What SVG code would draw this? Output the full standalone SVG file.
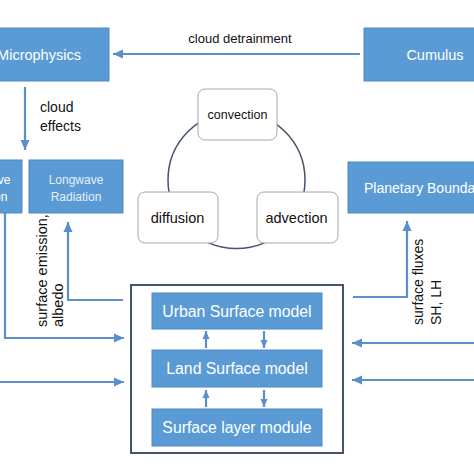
<svg xmlns="http://www.w3.org/2000/svg" width="474" height="474" viewBox="0 0 474 474">
<style>
.blue{fill:#5B9BD5;stroke:#4F88C2;stroke-width:1}
.wt{fill:#FFFFFF;font-family:"Liberation Sans",Arial,sans-serif;text-anchor:middle}
.bt{fill:#111111;font-family:"Liberation Sans",Arial,sans-serif}
.rb{fill:#FFFFFF;stroke:#A6A6A6;stroke-width:1}
.ln{fill:none;stroke:#5B8FCB;stroke-width:2.2}
.sm{fill:none;stroke:#5B8FCB;stroke-width:2.2}
</style>
<defs>
<marker id="ah" markerUnits="userSpaceOnUse" markerWidth="10" markerHeight="10" refX="10" refY="5" orient="auto">
<path d="M0,0.5 L10,5 L0,9.5 z" fill="#5B8FCB"/>
</marker>
<marker id="ahs" markerUnits="userSpaceOnUse" markerWidth="8" markerHeight="8" refX="8" refY="4" orient="auto">
<path d="M0,0.5 L8,4 L0,7.5 z" fill="#5B8FCB"/>
</marker>
</defs>
<rect width="474" height="474" fill="#FFFFFF"/>

<g id="connectors">
<path class="ln" d="M360,54 L113,54" marker-end="url(#ah)"/>
<path class="ln" d="M25,87 L25,150" marker-end="url(#ah)"/>
<path class="ln" d="M123,300 L68,300 L68,222" marker-end="url(#ah)"/>
<path class="ln" d="M5,213 L5,338 L124,338" marker-end="url(#ah)"/>
<path class="ln" d="M0,382 L124,382" marker-end="url(#ah)"/>
<path class="ln" d="M353,297 L407,297 L407,221" marker-end="url(#ah)"/>
<path class="ln" d="M474,343 L352,343" marker-end="url(#ah)"/>
<path class="ln" d="M474,380 L352,380" marker-end="url(#ah)"/>
<path class="sm" d="M206,348 L206,331" marker-end="url(#ahs)"/>
<path class="sm" d="M264,331 L264,348" marker-end="url(#ahs)"/>
<path class="sm" d="M206,407 L206,390" marker-end="url(#ahs)"/>
<path class="sm" d="M264,390 L264,407" marker-end="url(#ahs)"/>
<circle cx="236.5" cy="180" r="68.5" fill="none" stroke="#44546A" stroke-width="1.5"/>
<text class="bt" x="240" y="43" font-size="13" text-anchor="middle">cloud detrainment</text>
<text class="bt" x="40" y="112" font-size="14">cloud</text>
<text class="bt" x="40" y="131" font-size="14">effects</text>
<text class="bt" font-size="14.5" transform="translate(47,327) rotate(-90)">surface emission,</text>
<text class="bt" font-size="14.5" transform="translate(63,327) rotate(-90)">albedo</text>
<text class="bt" font-size="14" transform="translate(423,325) rotate(-90)">surface fluxes</text>
<text class="bt" font-size="14" transform="translate(441,325) rotate(-90)">SH, LH</text>
</g>

<g id="microphysics">
<rect class="blue" x="-35" y="28" width="144" height="53"/>
<text class="wt" x="39" y="60" font-size="14.5">Microphysics</text>
</g>
<g id="cumulus">
<rect class="blue" x="364" y="28" width="144" height="53"/>
<text class="wt" x="435" y="60" font-size="14.5">Cumulus</text>
</g>
<g id="shortwave">
<rect class="blue" x="-66" y="160" width="88" height="53"/>
<text class="wt" x="-18" y="184" font-size="12" fill="#E6EEF8">Shortwave</text>
<text class="wt" x="-18" y="201" font-size="12" fill="#E6EEF8">Radiation</text>
</g>
<g id="longwave">
<rect class="blue" x="29" y="160" width="94" height="53"/>
<text class="wt" x="76" y="184" font-size="12" style="fill:#E6EEF8">Longwave</text>
<text class="wt" x="76" y="201" font-size="12" style="fill:#E6EEF8">Radiation</text>
</g>
<g id="pbl">
<rect class="blue" x="348" y="162" width="160" height="51"/>
<text class="wt" x="364" y="193" font-size="14" style="text-anchor:start">Planetary Boundary Layer</text>
</g>
<g id="convection">
<rect class="rb" x="198" y="89" width="79" height="51" rx="7"/>
<text class="bt" x="237.5" y="118.5" font-size="12.5" text-anchor="middle">convection</text>
</g>
<g id="diffusion">
<rect class="rb" x="138" y="192" width="80" height="51" rx="7"/>
<text class="bt" x="177.5" y="222.5" font-size="14.5" text-anchor="middle">diffusion</text>
</g>
<g id="advection">
<rect class="rb" x="257" y="192" width="81" height="51" rx="7"/>
<text class="bt" x="296.5" y="222.5" font-size="14.5" text-anchor="middle">advection</text>
</g>
<g id="surface-box">
<rect x="131" y="285" width="212" height="168" fill="none" stroke="#44546A" stroke-width="2"/>
</g>
<g id="urban">
<rect class="blue" x="152" y="293" width="170" height="36"/>
<text class="wt" x="237" y="316.5" font-size="15.8">Urban Surface model</text>
</g>
<g id="land">
<rect class="blue" x="152" y="350" width="170" height="37"/>
<text class="wt" x="237" y="374" font-size="15.8">Land Surface model</text>
</g>
<g id="surface-layer">
<rect class="blue" x="152" y="409" width="170" height="37"/>
<text class="wt" x="237" y="433" font-size="15.8">Surface layer module</text>
</g>
</svg>
